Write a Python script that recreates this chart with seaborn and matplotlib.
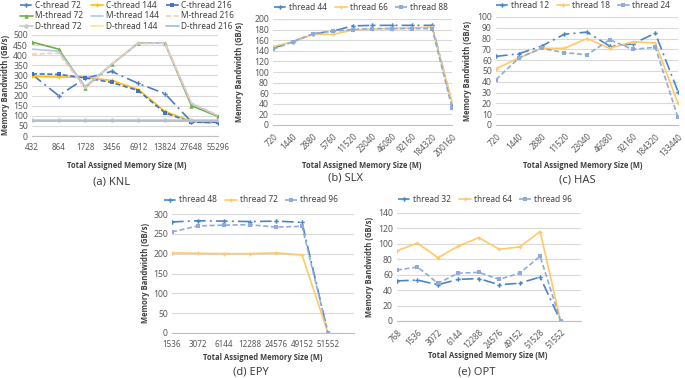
import numpy as np
import matplotlib
matplotlib.use("Agg")
import matplotlib.pyplot as plt
import seaborn as sns

# ---- data ----
knl_sizes = ["432", "864", "1728", "3456", "6912", "13824", "27648", "55296"]
knl_c72 = [305, 200, 285, 320, 260, 210, 70, 65]
knl_c144 = [295, 292, 290, 275, 230, 122, 72, 72]
knl_c216 = [308, 305, 288, 265, 225, 115, 68, 68]
knl_m72 = [465, 430, 240, 355, 460, 460, 150, 97]
knl_m144 = [430, 420, 245, 355, 458, 462, 160, 100]
knl_m216 = [405, 410, 235, 355, 458, 458, 165, 103]
knl_d72 = [77, 77, 77, 77, 77, 77, 77, 77]
knl_d144 = [75, 75, 75, 75, 75, 75, 75, 75]
knl_d216 = [75, 75, 75, 75, 75, 75, 75, 75]

slx_sizes = ["720", "1440", "2880", "5760", "11520", "23040", "46080", "92160", "184320", "200160"]
slx_t44 = [145, 157, 172, 177, 187, 188, 188, 188, 188, 40]
slx_t66 = [148, 157, 171, 171, 179, 181, 182, 183, 185, 43]
slx_t88 = [143, 157, 172, 177, 180, 182, 182, 182, 182, 33]

has_sizes = ["720", "1440", "2880", "11520", "23040", "46080", "92160", "184320", "133440"]
has_t12 = [63.5, 66, 73, 84, 86, 73, 75, 85, 31]
has_t18 = [52, 62, 71, 71, 80, 71, 77, 76, 20]
has_t24 = [42, 62, 71, 67, 65, 79, 70, 72, 7]

epy_sizes = ["1536", "3072", "6144", "12288", "24576", "49152", "51552"]
epy_t48 = [280, 283, 282, 281, 282, 279, 0]
epy_t72 = [202, 201, 200, 200, 202, 197, 0]
epy_t96 = [255, 270, 272, 273, 267, 269, 0]

opt_sizes = ["768", "1536", "3072", "6144", "12288", "24576", "49152", "51528", "51552"]
opt_t32 = [52, 53, 47, 54, 55, 47, 49, 57, 0]
opt_t64 = [91, 101, 82, 97, 108, 93, 96, 116, 0]
opt_t96 = [66, 70, 49, 62, 63, 54, 62, 84, 0]

# ---- styles ----
DASHDOT = (0, (7, 2.5, 1.2, 2.5))
DASHED = (0, (3, 1.6))
sty_a = dict(color="#4a86c5", ls=DASHDOT, marker="P", ms=3.2)
sty_b = dict(color="#ffc966", ls="-", marker="P", ms=2.8)
sty_c = dict(color="#8faadc", ls=DASHED, marker="s", ms=3.2)

W, H = 685, 378
sns.set_style("white")
plt.rcParams["font.family"] = ["Noto Sans", "DejaVu Sans"]
fig = plt.figure(figsize=(W / 100, H / 100), dpi=100)

TXT = "#404040"
TICK_FS = 5.8
LAB_FS = 5.5
LEG_FS = 6
CAP_FS = 8
BOLD = dict(fontsize=LAB_FS, fontweight="bold", family=["Open Sans", "DejaVu Sans"])


def px_axes(l, t, r, b):
    return fig.add_axes([l / W, 1 - b / H, (r - l) / W, (b - t) / H])


def ftext(x, y, s, **kw):
    fig.text(x / W, 1 - y / H, s, ha="center", va="center", color=TXT, **kw)


def draw(ax, sizes, series, ymax, ystep, xmax, rotate):
    pos = np.arange(len(sizes))
    for label, vals, st in series:
        st = dict(st)
        ls = st.pop("ls")
        sns.lineplot(x=pos, y=vals, ax=ax, label=label, linestyle=ls,
                     lw=1.2, markeredgewidth=0, **st)
    ax.set_xlim(0, xmax)
    ax.set_ylim(0, ymax)
    yt = np.arange(0, ymax + 0.1, ystep)
    ax.set_yticks(yt)
    ax.set_yticklabels([f"{v:g}" for v in yt], fontsize=TICK_FS + 0.4, color="#595959")
    ticks = np.arange(xmax + 1)
    ax.set_xticks(ticks)
    labels = list(sizes) + [""] * (len(ticks) - len(sizes))
    if rotate:
        ax.set_xticklabels(labels, rotation=45, ha="right",
                           rotation_mode="anchor", fontsize=TICK_FS, color="#595959")
    else:
        ax.set_xticklabels(labels, fontsize=TICK_FS, color="#595959")
    ax.yaxis.grid(True, color="#d9d9d9", lw=0.8)
    ax.set_axisbelow(True)
    for s in ["top", "right", "left"]:
        ax.spines[s].set_visible(False)
    ax.spines["bottom"].set_color("#bfbfbf")
    ax.spines["bottom"].set_linewidth(0.8)
    ax.tick_params(axis="x", length=3, color="#bfbfbf", pad=2)
    ax.tick_params(axis="y", length=0, pad=3)
    ax.set_xlabel("")
    ax.set_ylabel("")
    ax.get_legend().remove()


def legend(ax, cx, cy, ncol, order=None):
    h, l = ax.get_legend_handles_labels()
    if order is not None:
        h = [h[i] for i in order]
        l = [l[i] for i in order]
    fig.legend(h, l, loc="center", bbox_to_anchor=(cx / W, 1 - cy / H),
               ncol=ncol, frameon=False, fontsize=LEG_FS, handlelength=1.5,
               handletextpad=0.3, columnspacing=0.9, labelspacing=0.15,
               labelcolor=TXT, borderpad=0.1)


# (a) KNL
ax = px_axes(32, 35, 218, 136)
draw(ax, knl_sizes, [
    ("C-thread 72", knl_c72, dict(color="#4a7fc1", ls=DASHDOT, marker="P", ms=3.2)),
    ("C-thread 144", knl_c144, dict(color="#ffc000", ls="-", marker="P", ms=2.8)),
    ("C-thread 216", knl_c216, dict(color="#4472c4", ls=DASHED, marker="s", ms=3.2)),
    ("M-thread 72", knl_m72, dict(color="#70ad47", ls="-", marker="^", ms=3.2)),
    ("M-thread 144", knl_m144, dict(color="#b4c7e7", ls="-", marker=None)),
    ("M-thread 216", knl_m216, dict(color="#f8cbad", ls=DASHED, marker=None)),
    ("D-thread 72", knl_d72, dict(color="#c9c9c9", ls="-", marker="o", ms=3.2)),
    ("D-thread 144", knl_d144, dict(color="#ffe0a0", ls="-", marker=None)),
    ("D-thread 216", knl_d216, dict(color="#a9b8d8", ls="-", marker=None)),
], 500, 50, 7, False)
legend(ax, 127, 16, 3, order=[0, 3, 6, 1, 4, 7, 2, 5, 8])
ftext(6, 85, "Memory Bandwidth (GB/s)", rotation=90, **BOLD)
ftext(127, 166, "Total Assigned Memory Size (M)", **BOLD)
ftext(112, 182, "(a) KNL", fontsize=CAP_FS)

# (b) SLX
ax = px_axes(273, 19, 452, 125)
draw(ax, slx_sizes, [("thread 44", slx_t44, sty_a), ("thread 66", slx_t66, sty_b),
                     ("thread 88", slx_t88, sty_c)], 200, 20, 9, True)
legend(ax, 361, 7, 3)
ftext(240, 72, "Memory Bandwidth (GB/s)", rotation=90, **BOLD)
ftext(362, 165, "Total Assigned Memory Size (M)", **BOLD)
ftext(345, 178, "(b) SLX", fontsize=CAP_FS)

# (c) HAS
ax = px_axes(496, 17, 678, 125)
draw(ax, has_sizes, [("thread 12", has_t12, sty_a), ("thread 18", has_t18, sty_b),
                     ("thread 24", has_t24, sty_c)], 100, 10, 8, True)
legend(ax, 583, 5, 3)
ftext(467, 71, "Memory Bandwidth (GB/s)", rotation=90, **BOLD)
ftext(583, 165, "Total Assigned Memory Size (M)", **BOLD)
ftext(577, 180, "(c) HAS", fontsize=CAP_FS)

# (d) EPY
ax = px_axes(172, 214, 354, 333)
draw(ax, epy_sizes, [("thread 48", epy_t48, sty_a), ("thread 72", epy_t72, sty_b),
                     ("thread 96", epy_t96, sty_c)], 300, 50, 7, False)
legend(ax, 251, 200, 3)
ftext(145, 273, "Memory Bandwidth (GB/s)", rotation=90, **BOLD)
ftext(263, 357, "Total Assigned Memory Size (M)", **BOLD)
ftext(251, 372, "(d) EPY", fontsize=CAP_FS)

# (e) OPT
ax = px_axes(397, 213, 581, 321)
draw(ax, opt_sizes, [("thread 32", opt_t32, sty_a), ("thread 64", opt_t64, sty_b),
                     ("thread 96", opt_t96, sty_c)], 140, 20, 9, True)
legend(ax, 485, 199, 3)
ftext(370, 267, "Memory Bandwidth (GB/s)", rotation=90, **BOLD)
ftext(488, 356, "Total Assigned Memory Size (M)", **BOLD)
ftext(477, 372, "(e) OPT", fontsize=CAP_FS)

fig.savefig("out.png", dpi=100)
